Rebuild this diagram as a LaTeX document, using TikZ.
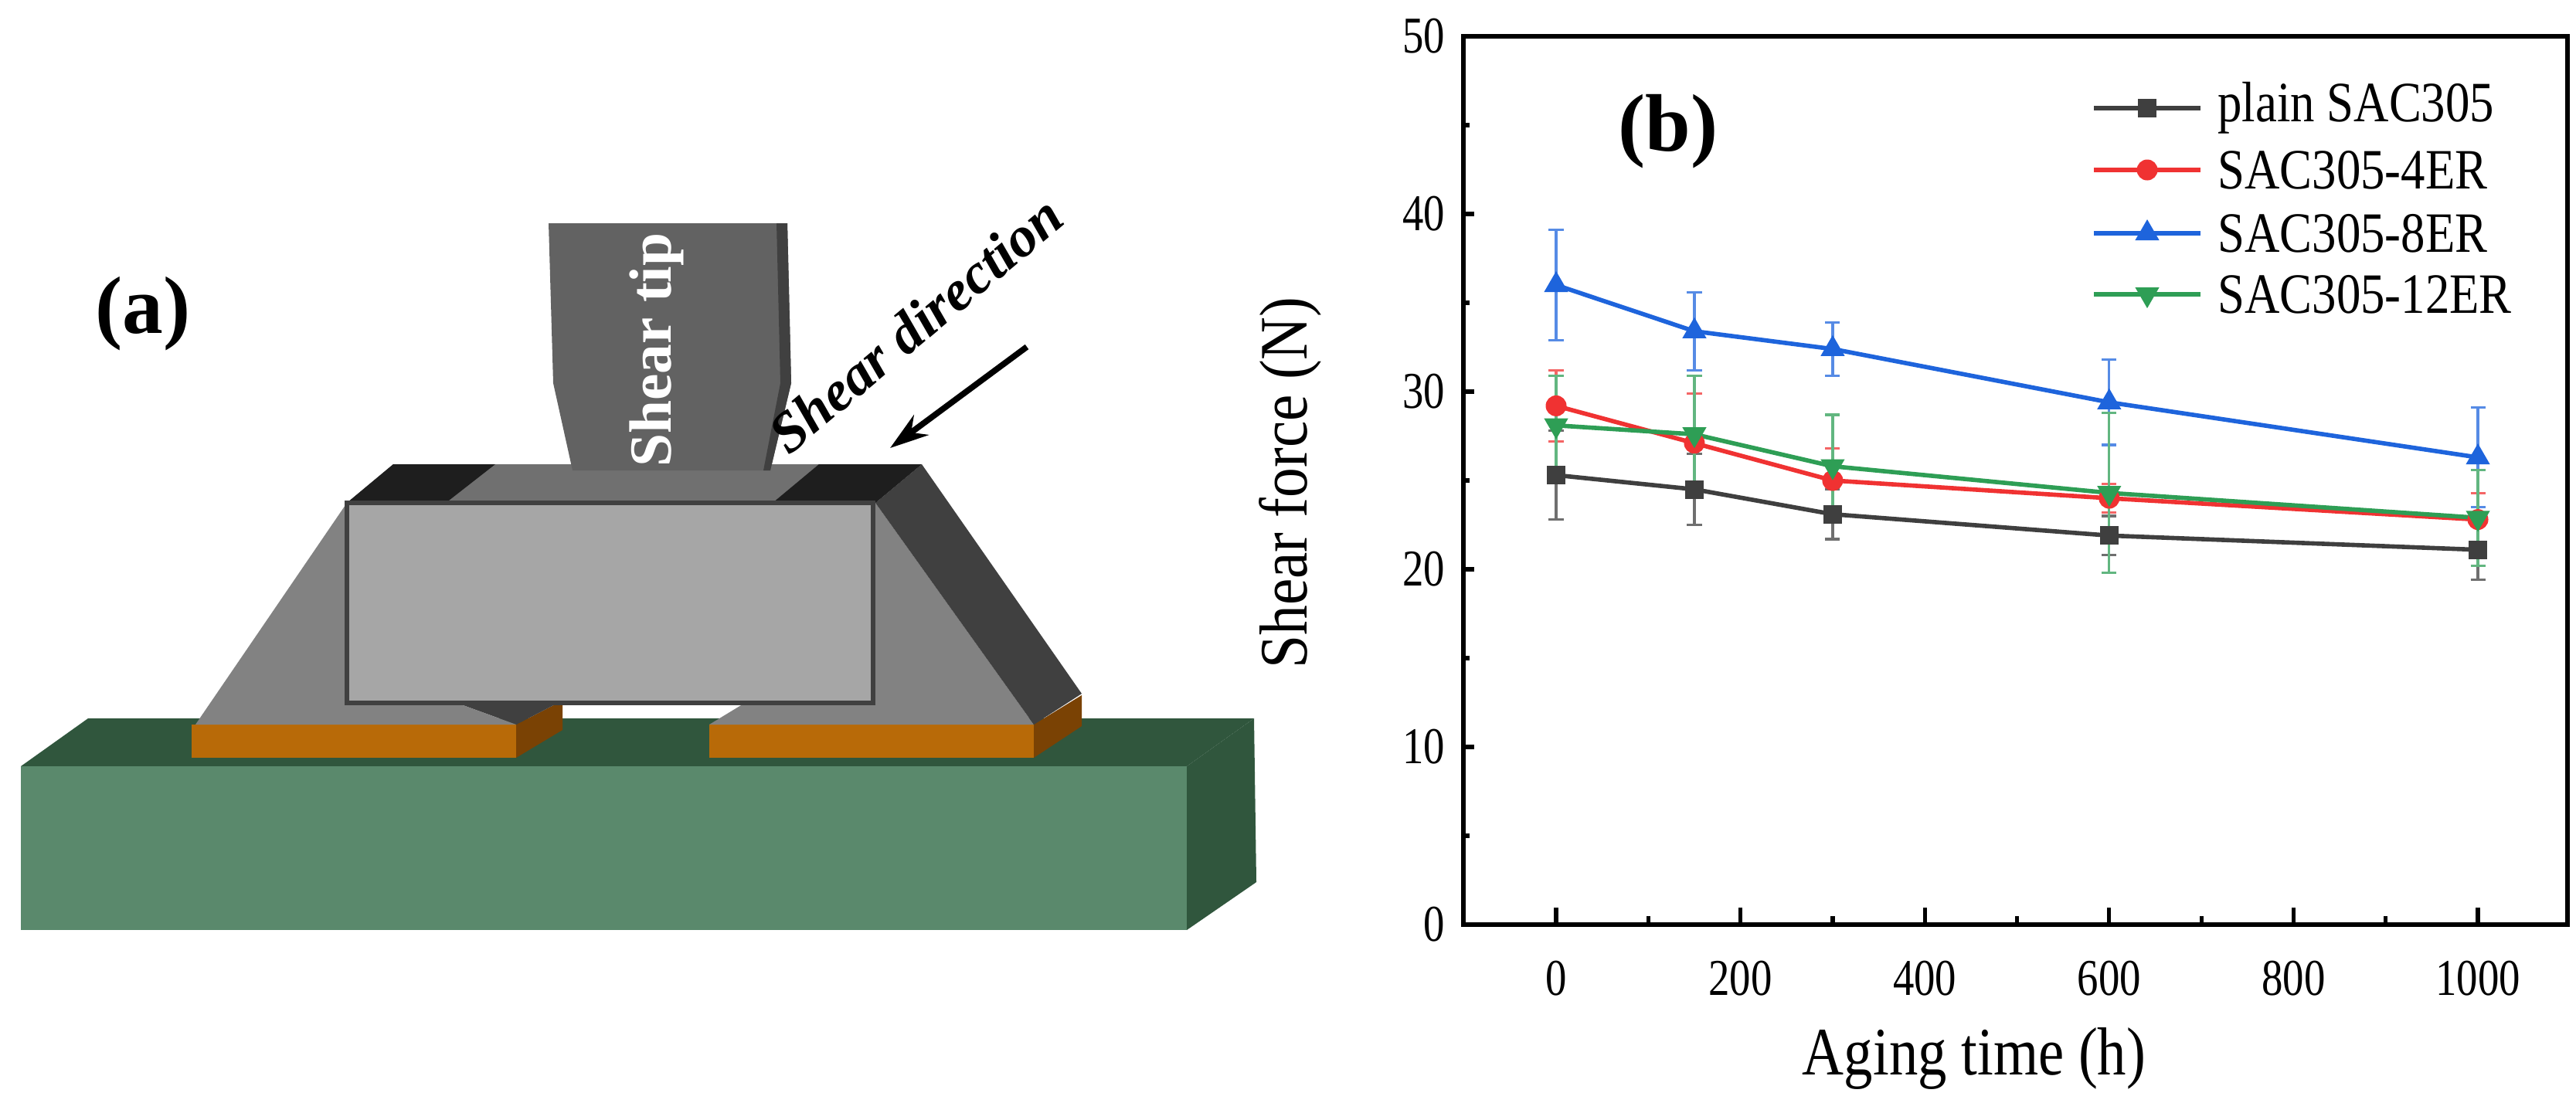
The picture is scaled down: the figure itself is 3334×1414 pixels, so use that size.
\documentclass[tikz,border=0pt]{standalone}
\usepackage{fontspec}
\setmainfont{Liberation Serif}
\usetikzlibrary{shapes.geometric,arrows.meta}
\definecolor{boardtop}{HTML}{30563D}
\definecolor{boardfront}{HTML}{5A896C}
\definecolor{padc}{HTML}{B86A08}
\definecolor{padside}{HTML}{7A4204}
\definecolor{chipc}{HTML}{A6A6A6}
\definecolor{chiptop}{HTML}{707070}
\definecolor{fillet}{HTML}{828282}
\definecolor{darkside}{HTML}{404040}
\definecolor{capc}{HTML}{1E1E1E}
\definecolor{tipc}{HTML}{626262}
\definecolor{cplain}{HTML}{3F3F3F}
\definecolor{cred}{HTML}{F03232}
\definecolor{cblue}{HTML}{1E64DC}
\definecolor{cgreen}{HTML}{2E9E55}
\tikzset{
  tick/.style={font=\fontsize{19}{19}\selectfont},
  mk/.style={inner sep=0pt, minimum size=0.3cm, fill=#1, draw=none},
  sq/.style={mk=#1, rectangle, minimum size=0.24cm},
  ci/.style={mk=#1, circle, minimum size=0.27cm},
  tu/.style={mk=#1, regular polygon, regular polygon sides=3, minimum size=0.36cm},
  td/.style={mk=#1, regular polygon, regular polygon sides=3, shape border rotate=180, minimum size=0.36cm},
}
\begin{document}
\begin{tikzpicture}[x=0.01cm,y=-0.01cm]
\useasboundingbox (0,0) rectangle (3334,1414);
\fill[white] (0,0) rectangle (3334,1414);
% ---------- (a) ----------
% board
\fill[boardtop] (27,992) -- (114,930) -- (1623,930) -- (1536,992) -- cycle;
\fill[boardtop] (1536,992) -- (1623,930) -- (1626,1142) -- (1536,1204) -- cycle;
\fill[boardfront] (27,992) rectangle (1536,1204);
% pads
\fill[padside] (668,938) -- (728,907) -- (728,945) -- (668,981) -- cycle;
\fill[padc] (248,938) rectangle (668,981);
\fill[padside] (1338,938) -- (1400,900) -- (1400,940) -- (1338,981) -- cycle;
\fill[padc] (918,938) rectangle (1338,981);
% under-chip dark parts
\fill[darkside] (583,907) -- (728,907) -- (668,938) -- cycle;
\fill[darkside] (969,907) -- (1000,900) -- (1000,907) -- cycle;
% left fillet
\fill[fillet] (449,651) -- (253,938) -- (668,938) -- (583,907) -- (449,907) -- cycle;
% right fillet
\fill[fillet] (1133,651) -- (1338,938) -- (918,938) -- (969,907) -- (1130,907) -- cycle;
\fill[darkside] (1133,651) -- (1193,601) -- (1400,898) -- (1338,938) -- cycle;
% chip top
\fill[chiptop] (449,651) -- (509,601) -- (1193,601) -- (1133,651) -- cycle;
\fill[capc] (449,651) -- (509,601) -- (641,601) -- (577,651) -- cycle;
\fill[capc] (1000,651) -- (1060,601) -- (1193,601) -- (1133,651) -- cycle;
% chip front
\draw[fill=chipc, draw=darkside, line width=1.5pt] (449,651) rectangle (1130,910);
% shear tip
\fill[tipc] (710,289) -- (1019,289) -- (1024,496) -- (997,609) -- (741,609) -- (716,496) -- cycle;
\fill[darkside] (1005,289) -- (1019,289) -- (1024,496) -- (997,609) -- (988,609) -- (1010,496) -- cycle;
\node[rotate=90, text=white, font=\fontsize{22}{22}\selectfont\bfseries] (tiplabel) at (850,453) {Shear tip};
\node[rotate=40, font=\fontsize{21}{21}\selectfont\bfseries\itshape] (dirlabel) at (1185,420) {Shear direction};
\coordinate (arrs) at (1329,449);
\coordinate (arre) at (1152,580);
\draw[line width=2.2pt, -{Stealth[length=0.5cm,width=0.32cm]}] (arrs) -- (arre);
\node[font=\fontsize{30}{30}\selectfont\bfseries] (alabel) at (185,406) {(a)};
% ---------- (b) ----------
\begin{scope}[shift={(2014,1197)}, xscale=1.193, yscale=-23]
  \draw[line width=1.7pt] (-101,0) rectangle (1097,50);
  \foreach \h in {0,200,...,1000} {
    \draw[line width=1.5pt] (\h,0) -- ++(0,0.95);
    \node[tick, xscale=0.82, anchor=north] (xl\h) at (\h,-1.5) {\h};
  }
  \foreach \h in {100,300,...,900} \draw[line width=1.5pt] (\h,0) -- ++(0,0.5);
  \foreach \n in {0,10,...,50} {
    \draw[line width=1.5pt] (-101,\n) -- ++(12,0);
    \node[tick, xscale=0.82, anchor=east] (yl\n) at (-112,\n) {\n};
  }
  \foreach \n in {5,15,...,45} \draw[line width=1.5pt] (-101,\n) -- ++(7,0);
  % error bars
  \foreach \c/\data in {
     cplain/{0/25.3/2.5,150/24.5/2.0,300/23.1/1.4,600/21.9/1.1,1000/21.1/1.7},
     cred/{0/29.2/2.0,150/27.1/2.8,300/25.0/1.8,600/24.0/0.8,1000/22.8/1.5},
     cblue/{0/36.0/3.1,150/33.4/2.2,300/32.4/1.5,600/29.4/2.4,1000/26.3/2.8},
     cgreen/{0/28.1/2.8,150/27.6/3.3,300/25.8/2.9,600/24.3/4.5,1000/22.9/2.7}} {
    \foreach \h/\v/\e in \data {
      \draw[\c!75, line width=0.9pt] (\h,\v-\e) -- (\h,\v+\e)
          (\h-8,\v-\e) -- (\h+8,\v-\e) (\h-8,\v+\e) -- (\h+8,\v+\e);
    }
  }
  \draw[cplain, line width=1.6pt] (0,25.3) -- (150,24.5) -- (300,23.1) -- (600,21.9) -- (1000,21.1);
  \draw[cred, line width=1.6pt] (0,29.2) -- (150,27.1) -- (300,25.0) -- (600,24.0) -- (1000,22.8);
  \draw[cblue, line width=1.6pt] (0,36.0) -- (150,33.4) -- (300,32.4) -- (600,29.4) -- (1000,26.3);
  \draw[cgreen, line width=1.6pt] (0,28.1) -- (150,27.6) -- (300,25.8) -- (600,24.3) -- (1000,22.9);
  \foreach \h/\a/\b/\cc/\d in {0/25.3/29.2/36.0/28.1,150/24.5/27.1/33.4/27.6,300/23.1/25.0/32.4/25.8,600/21.9/24.0/29.4/24.3,1000/21.1/22.8/26.3/22.9} {
    \node[sq=cplain] at (\h,\a) {};
    \node[ci=cred] at (\h,\b) {};
    \node[tu=cblue] at (\h,\cc) {};
    \node[td=cgreen] at (\h,\d) {};
  }
\end{scope}
\node[font=\fontsize{30}{30}\selectfont\bfseries] (blabel) at (2159,170) {(b)};
\node[rotate=90, xscale=0.88, font=\fontsize{25}{25}\selectfont] (ylab) at (1670,625) {Shear force (N)};
\node[xscale=0.85, font=\fontsize{25}{25}\selectfont] (xlab) at (2555,1370) {Aging time (h)};
% legend
\foreach \y/\c/\s/\t in {140/cplain/sq/plain SAC305, 220/cred/ci/SAC305-4ER, 302/cblue/tu/SAC305-8ER, 381/cgreen/td/SAC305-12ER} {
  \draw[\c, line width=1.6pt] (2710,\y) -- (2848,\y);
  \node[\s=\c] at (2779,\y) {};
  \node[anchor=west, xscale=0.85, font=\fontsize{21}{21}\selectfont] at (2860,\y) {\t};
}
\end{tikzpicture}
\end{document}
